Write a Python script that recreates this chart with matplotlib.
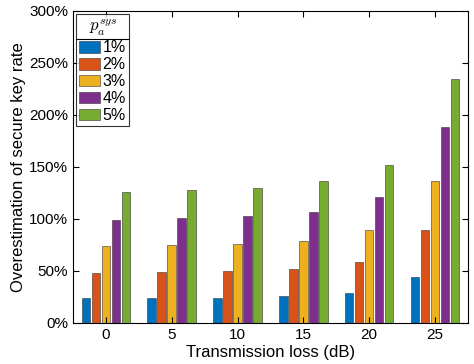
import numpy as np
import matplotlib
matplotlib.use("Agg")
from matplotlib import pyplot as plt

loss = [0, 5, 10, 15, 20, 25]
p_labels = ['1%', '2%', '3%', '4%', '5%']
p1 = [24, 24, 24, 26, 29, 44]
p2 = [48, 49, 50, 52, 59, 89]
p3 = [74, 75, 76, 79, 89, 136]
p4 = [99, 101, 103, 107, 121, 188]
p5 = [126, 128, 130, 136, 152, 235]
colors = ['#0072BD', '#D95319', '#EDB120', '#7E2F8E', '#77AC30']

plt.rcParams['font.family'] = ['Liberation Sans', 'DejaVu Sans']
plt.rcParams['mathtext.fontset'] = 'cm'

fig = plt.figure(figsize=(4.74, 3.64), dpi=100)
ax = fig.add_axes([0.154, 0.113, 0.833, 0.857])

series = [p1, p2, p3, p4, p5]
x = np.array(loss, dtype=float)
step = 0.76
width = 0.65
for i, vals in enumerate(series):
    ax.bar(x + (i - 2) * step, vals, width, color=colors[i],
           edgecolor='#333333', linewidth=0.4, label=p_labels[i])

ax.set_xlim(-2.5, 27.5)
ax.set_ylim(0, 300)
ax.set_xticks(loss)
ax.set_yticks(range(0, 301, 50))
ax.set_yticklabels([str(v) + '%' for v in range(0, 301, 50)])
ax.tick_params(direction='in', top=True, right=True, labelsize=11, length=4)
ax.set_xlabel('Transmission loss (dB)', fontsize=12, labelpad=2)
ax.set_ylabel('Overestimation of secure key rate', fontsize=12, labelpad=2)
for s in ax.spines.values():
    s.set_linewidth(0.8)

leg = ax.legend(title=r'$p_a^{sys}$', loc='upper left', fontsize=11.5,
                title_fontsize=12, fancybox=False, edgecolor='black',
                handlelength=1.3, handleheight=0.75, handletextpad=0.15,
                labelspacing=0.12, borderpad=0.2, borderaxespad=0.2)
leg.get_frame().set_linewidth(0.8)
leg._legend_box.sep = 2

# separator line under the legend title
fig.canvas.draw()
r = fig.canvas.get_renderer()
box = leg.get_window_extent(r)
tbox = leg.get_title().get_window_extent(r)
inv = fig.transFigure.inverted()
(x0, y0) = inv.transform((box.x0, tbox.y0 - 1))
(x1, _) = inv.transform((box.x1, tbox.y0 - 1))
fig.add_artist(plt.Line2D([x0, x1], [y0, y0], color='black', linewidth=0.8))

fig.savefig('out.png', dpi=100)
